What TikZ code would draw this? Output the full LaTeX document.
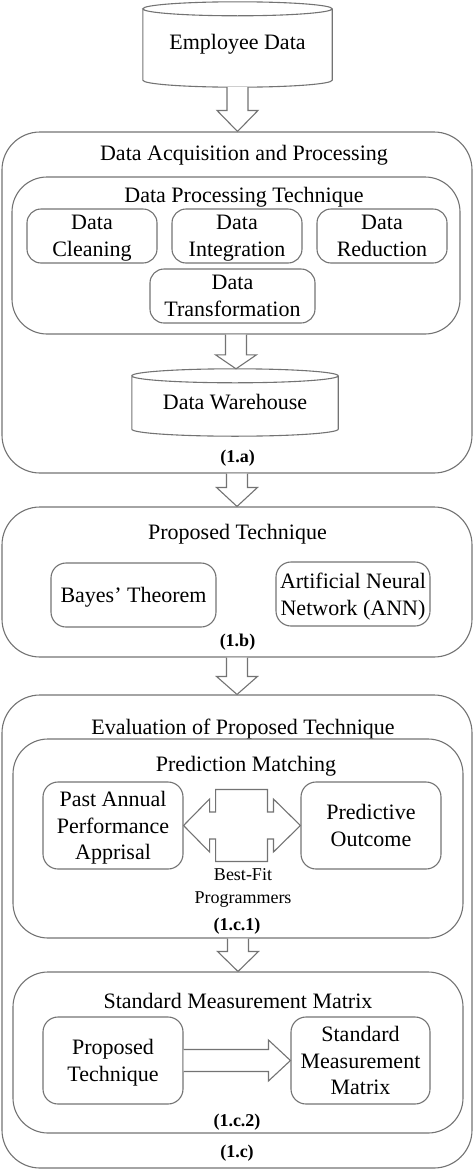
\documentclass[tikz,border=0pt]{standalone}
\usepackage{fontspec}
\setmainfont{Liberation Serif}
\usetikzlibrary{calc}
\def\downblock(#1)(#2)(#3){\draw[blockarrow] let \p1=(#1), \p2=(#2) in (\x1-10.5pt,\y1) -- (\x1-10.5pt,\y2+#3) -- (\x1-20.5pt,\y2+#3) -- (\x1,\y2) -- (\x1+20.5pt,\y2+#3) -- (\x1+10.5pt,\y2+#3) -- (\x1+10.5pt,\y1);}
\def\rightblock(#1)(#2){\draw[blockarrow] let \p1=(#1), \p2=(#2) in (\x1,\y1+11pt) -- (\x2-22pt,\y1+11pt) -- (\x2-22pt,\y1+20.5pt) -- (\x2,\y1) -- (\x2-22pt,\y1-20.5pt) -- (\x2-22pt,\y1-11pt) -- (\x1,\y1-11pt);}
\def\drum(#1){\draw[drumline] let \p1=(#1.north west), \p2=(#1.south east), \n1={(\x2-\x1)/2} in (\x1,\y1-7pt) -- (\x1,\y2+7pt) arc[start angle=180, end angle=360, x radius=\n1, y radius=7pt] -- (\x2,\y1-7pt) arc[start angle=0, end angle=360, x radius=\n1, y radius=7pt];}
\def\bestfit(#1)(#2){\draw[blockarrow] let \p1=(#1), \p2=(#2) in (\x1,\y1) -- (\x1+26pt,\y1+26.5pt) -- (\x1+26pt,\y1+13.5pt) -- (\x1+32pt,\y1+13.5pt) -- (\x1+32pt,\y1+36pt) -- (\x2-33pt,\y1+36pt) -- (\x2-33pt,\y1+13.5pt) -- (\x2-27pt,\y1+13.5pt) -- (\x2-27pt,\y1+26.5pt) -- (\x2,\y2) -- (\x2-27pt,\y1-26.5pt) -- (\x2-27pt,\y1-13.5pt) -- (\x2-33pt,\y1-13.5pt) -- (\x2-33pt,\y1-36pt) -- (\x1+32pt,\y1-36pt) -- (\x1+32pt,\y1-13.5pt) -- (\x1+26pt,\y1-13.5pt) -- (\x1+26pt,\y1-26.5pt) -- cycle;}
\tikzset{
	outerbox/.style={draw=black!55, line width=1.1pt, rounded corners=38pt, inner sep=0pt},
	innerbox/.style={draw=black!55, line width=1.1pt, rounded corners=35pt, inner sep=0pt},
	itembox/.style={draw=black!55, line width=1.1pt, rounded corners=14pt, inner sep=2pt, align=center, minimum height=54pt, text depth=0pt},
	drumnode/.style={inner sep=0pt},
	drumline/.style={draw=black!55, line width=1.1pt},
	blockarrow/.style={draw=black!55, line width=1.1pt, fill=white},
	tag/.style={font=\fontsize{18}{22}\selectfont\bfseries},
	note/.style={font=\fontsize{18}{23}\selectfont, align=center}
}

\begin{document}
\begin{tikzpicture}[x=1pt, y=-1pt, font=\fontsize{22}{26.5}\selectfont]
		\useasboundingbox (0,0) rectangle (474,1170);
		%%%%% START %%%%%
		
		\node[drumnode, minimum width=189pt, minimum height=85pt] (emp) at (237.5, 44.5) {Employee Data};
		\drum(emp)
		
		%%%%% 1.a %%%%%
		\node[outerbox, minimum width=470pt, minimum height=341pt] (acq) at (237, 302.5) {};
		\node (acqT) at (244, 155) {Data Acquisition and Processing};
		\node[innerbox, minimum width=448pt, minimum height=157pt] (proc) at (236, 255.5) {};
		\node (procT) at (244, 197) {Data Processing Technique};
		\node[itembox, minimum width=130pt] (clean) at (92, 236) {Data\\Cleaning};
		\node[itembox, minimum width=130pt] (integ) at (237, 236) {Data\\Integration};
		\node[itembox, minimum width=130pt] (reduc) at (382, 236) {Data\\Reduction};
		\node[itembox, minimum width=165pt] (trans) at (232.5, 296) {Data\\Transformation};
		\node[drumnode, minimum width=206pt, minimum height=67pt] (ware) at (235, 402.5) {Data Warehouse};
		\drum(ware)
		\node[tag] (tagA) at (237.5, 458) {(1.a)};
		
		\downblock(emp.south)(acq.north)(21pt)
		\downblock(proc.south)(ware.north)(14pt)
		
		%%%%% 1.b %%%%%
		\node[outerbox, minimum width=470pt, minimum height=150pt] (prop) at (237, 582) {};
		\node (propT) at (237.5, 534) {Proposed Technique};
		\node[itembox, minimum width=165pt, minimum height=64pt, rounded corners=15pt] (bayes) at (133.5, 595) {Bayes’ Theorem};
		\node[itembox, minimum width=154pt, minimum height=64pt, rounded corners=15pt] (ann) at (353, 594) {Artificial Neural\\Network (ANN)};
		\node[tag] (tagB) at (237.5, 642) {(1.b)};
		
		\downblock(acq.south)(prop.north)(19pt)
		
		%%%%% 1.c %%%%%
		\node[outerbox, minimum width=470pt, minimum height=473pt] (eval) at (237, 931.5) {};
		\node (evalT) at (243, 729) {Evaluation of Proposed Technique};
		\node[innerbox, minimum width=450pt, minimum height=199pt] (match) at (238, 838.5) {};
		\node (matchT) at (246, 766) {Prediction Matching};
		\node[itembox, minimum width=140pt, minimum height=87pt, rounded corners=15pt] (past) at (113, 825.5) {Past Annual\\Performance\\Apprisal};
		\node[itembox, minimum width=140pt, minimum height=87pt, rounded corners=15pt] (pred) at (371, 825.5) {Predictive\\Outcome};
		\bestfit(past.east)(pred.west)
		\node[note] (best) at (243, 887.5) {Best-Fit\\Programmers};
		\node[tag] (tagC1) at (237, 926) {(1.c.1)};
		
		\node[innerbox, minimum width=450pt, minimum height=161pt] (smm) at (238, 1052.5) {};
		\node (smmT) at (238, 1001) {Standard Measurement Matrix};
		\node[itembox, minimum width=140pt, minimum height=87pt, rounded corners=15pt] (tech) at (113, 1060.5) {Proposed\\Technique};
		\node[itembox, minimum width=139pt, minimum height=87pt, rounded corners=15pt] (meas) at (360.5, 1060.5) {Standard\\Measurement\\Matrix};
		\rightblock(tech.east)(meas.west)
		\node[tag] (tagC2) at (237, 1122) {(1.c.2)};
		\node[tag] (tagC) at (237, 1153) {(1.c)};
		
		\downblock(prop.south)(eval.north)(18pt)
		\downblock(match.south)(smm.north)(20pt)
		
		%%%%% END %%%%%
	\end{tikzpicture}
\end{document}
